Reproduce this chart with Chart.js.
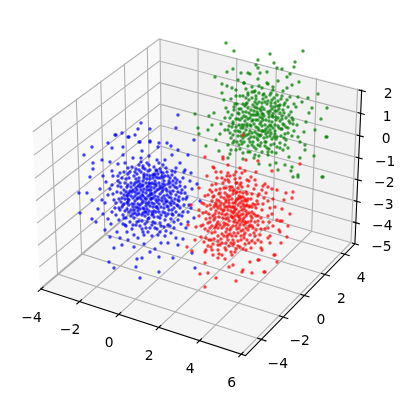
<!DOCTYPE html>
<html>
<head>
<meta charset="utf-8">
<style>
html, body { margin: 0; padding: 0; background: #fff; }
canvas { display: block; }
</style>
<script src="https://cdn.jsdelivr.net/npm/chart.js@4/dist/chart.umd.min.js"></script>
</head>
<body>
<canvas id="chart" width="405" height="401"></canvas>
<script>
// ===== 3D scatter drawn on a flat Chart.js scatter chart =====

// Axis ticks and limits
var xTicks = [-4, -2, 0, 2, 4, 6];
var yTicks = [-4, -2, 0, 2, 4];
var zTicks = [-5, -4, -3, -2, -1, 0, 1, 2];
var xLim = [-4.05, 6.2];
var yLim = [-5.4, 5.05];
var zLim = [-5.0, 2.05];

// Scatter values, read off the picture as flat x,y pairs on the view plane
// (a flat picture does not give the depth of a point)
var blueValues = [
84,155,79,193,87,193,80,213,92,219,96,222,90,177,93,163,93,169,102,160,110,162,108,143,122,133,115,135,128,137,135,135,140,142,123,147,123,155,150,141,159,143,167,143,178,150,188,155,
114,248,122,245,109,262,114,268,140,278,136,267,137,259,142,258,159,272,150,252,159,257,173,258,178,245,192,253,195,268,110,237,105,230,108,219,102,200,98,209,92,200,
178,115,176,128,194,140,141,123,150,129,138,129,116,135,129,137,139,142,92,147,112,148,150,142,171,146,158,147,
151,187,143,201,162,176,137,194,158,209,146,183,129,205,171,198,153,222,139,178,166,189,124,190,148,196,157,171,135,213,178,206,144,174,162,201,131,183,152,203,119,199,168,214,141,190,155,181,126,218,173,185,147,209,160,194,136,169,181,193,150,176,133,198,164,227,142,215,156,200,122,178,170,203,138,186,149,190,115,208,159,183,145,224,176,212,128,195,154,167,167,195,140,205,183,178,132,229,152,212,163,184,118,186,147,179,158,217,137,199,172,175,143,192,125,211,155,196,186,199,141,162,161,207,134,176,149,218,169,181,121,202,154,188,139,221,178,192,146,206,130,172,165,220,156,177,143,185,113,194,174,228,151,199,136,207,160,169,127,187,183,212,148,232,167,201,140,197,157,190,123,224,175,199,144,178,153,214,133,190,163,173,116,215,146,199,171,219,138,211,159,204,129,178,180,186,150,184,142,229,165,176,155,223,135,183,124,204,168,207,147,187,189,205,139,170,158,235,152,194,131,216,177,180,145,212,161,188,120,173,173,215,136,225,156,207,192,189,143,168,149,202,166,231,128,199,154,175,140,184,170,192,134,235,163,212,151,190,
146,193,155,192,141,199,160,186,150,206,136,188,165,199,144,209,157,202,132,204,148,186,162,192,139,181,153,198,127,196,170,187,145,216,158,178,135,201,149,211,174,208,142,195,130,191,167,206,152,183,138,208,161,215,147,175,125,183,176,195,143,213,156,186,134,210,164,196,150,195,122,207,
106,182,112,171,118,164,133,158,149,156,165,160,180,163,191,173,197,184,200,201,194,218,186,228,176,238,161,243,144,244,128,240,117,232,108,195,103,176,125,163,142,151,172,155,185,170,120,238,134,247,155,249,168,243,183,239,100,189,111,224,
128,168,172,171,118,181,185,187,126,226,181,224,163,165,139,165,150,170,159,163,121,193,116,203,130,222,144,235,157,229,170,226,182,216,188,212,190,181,184,172,176,168,147,163,135,172,124,172,113,176,110,189,112,212,119,220,127,232,138,238,150,228,165,236,174,222,187,197,179,201,175,178,167,172,155,174,143,166,132,167,126,179,119,208,123,215,134,218,140,226,147,222,160,223,168,225,180,208,172,210,164,208,170,178,164,181,158,174,148,171,141,172,132,192,127,203,122,198,129,212,137,215,142,221,155,228,152,225,159,212,166,216,174,203,179,197,184,205,177,188,168,184,160,178,153,178,145,169,137,174,131,187,126,192,117,192,120,210,125,225,133,225,139,214,146,228,154,217,161,226,172,214,179,215,185,193,173,181,166,168,157,160,149,165,141,158,128,174,120,183,114,200,
135,192,142,203,148,214,156,212,164,204,171,194,163,187,156,184,150,179,144,176,137,182,133,207,128,185,123,205,131,210,138,204,143,208,153,207,158,197,167,191,175,187,180,182,144,189,151,199,140,187,135,196,129,200,146,203,154,211,162,198,169,210,177,205,183,199,125,199,118,176,112,185,143,232,152,236,160,232,171,233,178,220,188,222,191,208,105,203,103,214,
154,204,147,190,139,193,159,189,165,185,134,185,127,209,172,201,149,183,143,181,156,170,136,179,161,172,168,176,175,172,129,193,121,187,142,186,153,175,148,219,137,222,133,214,124,218,165,213,160,218,171,205,178,200,182,190,176,183,170,183,163,178,
145,198,151,193,157,207,140,209,134,204,128,202,124,195,166,202,173,191,152,215,146,212,138,198,131,196,159,200,154,184,148,204,143,196,137,190,163,190,169,197
];
var redValues = [
290,214,287,237,279,230,270,236,293,192,286,193,292,198,277,190,272,189,280,221,288,226,275,255,277,262,265,272,258,260,252,273,242,272,236,281,229,267,216,278,205,287,208,273,200,274,205,263,
243,135,223,157,205,157,258,161,300,164,213,167,228,173,223,159,282,221,277,220,280,232,270,243,274,255,259,260,264,272,243,270,
238,205,226,219,247,194,231,228,252,212,219,201,241,236,209,214,234,190,258,225,244,218,223,183,215,232,237,199,263,204,228,210,249,243,205,196,240,178,254,189,232,217,218,222,246,206,211,240,236,226,268,216,225,193,243,230,214,207,251,199,229,246,203,225,239,212,260,235,221,172,233,203,248,222,216,190,242,187,227,237,256,208,208,231,235,220,266,193,222,214,245,171,230,196,253,228,212,250,238,241,199,210,224,204,247,214,234,233,217,178,261,218,228,225,241,197,206,219,250,235,236,183,220,245,244,209,213,197,255,180,231,211,243,249,202,203,265,229,226,188,239,221,218,236,248,186,233,240,210,222,257,201,222,255,237,192,246,228,204,242,229,203,252,218,215,214,241,207,227,176,235,252,270,208,212,185,244,238,224,226,259,194,196,227,238,216,220,193,249,207,231,243,208,246,254,233,217,206,242,201,226,232,263,186,234,175,201,237,245,222,213,255,237,229,223,211,251,248,228,218,240,192,210,205,258,216,233,207,218,245,247,180,225,259,236,236,205,252,243,214,261,242,230,190,
234,212,240,203,229,221,246,216,225,207,237,223,219,213,243,197,232,199,250,206,222,228,236,209,214,220,241,231,227,195,255,222,230,234,245,201,217,200,239,217,224,236,248,230,212,226,233,194,227,214,242,222,220,206,235,203,252,194,
195,240,188,225,191,205,199,188,207,176,228,165,240,168,256,172,268,187,275,207,273,226,262,250,250,262,233,265,218,258,206,250,192,251,272,171,284,200,281,243,246,160,187,247,214,168,282,209,
210,190,222,178,236,172,251,177,262,190,268,201,272,214,268,228,258,240,246,250,232,255,218,250,206,238,201,226,199,216,204,204,208,195,216,184,228,180,240,185,249,181,258,196,262,210,263,222,255,236,240,247,226,243,214,239,208,223,211,209,214,196,224,188,236,193,246,192,253,204,256,216,250,225,244,235,233,245,222,234,216,226,215,218,218,208,226,200,232,187,240,198,247,201,252,207,258,221,247,240,236,249,225,248,212,233,205,229,207,206,221,197,229,182,241,183,256,185,264,198,269,222,261,229,252,241,231,252,218,241,210,218,203,213,212,201,220,189,235,179,242,173,230,176,216,172,
234,207,228,197,238,188,245,199,251,221,244,225,238,233,230,230,224,223,219,217,216,203,224,198,233,213,240,225,228,240,221,239,215,228,209,240,213,244,235,216,243,204,249,213,255,205,233,226,227,207,239,196,231,207,221,209,225,215,237,214,246,223,241,240,234,243,226,250,219,254,211,247,261,248,255,243,245,244,268,238,273,199,265,184,
236,201,242,210,247,205,231,216,226,224,221,203,216,211,239,228,245,233,251,216,229,200,234,222,240,219,224,210,218,228,213,216,206,212,248,199,254,214,258,204,243,193,237,183,230,187,225,180,219,194,212,192,232,236,227,229,222,243,238,246,
235,210,229,206,241,215,246,211,252,226,223,218,217,224,233,218,238,199,244,206,226,202,220,225,228,235,243,220,249,227,215,205,210,228,256,230,233,191
];
var greenValues = [
226,43,234,51,270,54,303,51,258,60,274,63,295,62,294,67,256,65,258,68,277,68,282,69,233,69,227,72,241,73,248,73,215,77,260,73,290,74,238,80,222,84,227,86,244,83,299,82,298,97,308,98,318,94,327,108,312,108,321,119,327,137,315,130,314,156,322,177,305,145,305,150,
195,114,198,128,199,134,209,116,214,113,208,130,220,134,206,146,219,151,233,143,230,154,298,175,293,177,278,170,285,165,270,165,292,167,326,137,323,177,298,177,291,171,300,158,
262,118,250,131,271,106,258,140,275,125,243,112,266,97,254,124,281,136,236,127,269,149,247,103,260,109,284,113,241,141,273,117,252,92,263,131,232,115,278,101,256,149,245,121,288,128,268,84,238,136,259,102,274,144,249,113,265,125,226,108,283,91,254,137,270,130,243,96,292,118,261,143,235,104,277,111,248,146,257,115,286,140,264,94,240,120,272,100,251,126,296,107,230,133,267,137,280,121,246,89,255,155,239,109,275,134,261,122,228,145,290,97,253,105,269,114,244,133,283,150,258,128,236,96,273,87,249,139,264,109,294,131,242,118,256,99,278,126,233,122,268,152,251,115,285,103,260,136,225,118,271,93,247,126,262,103,280,143,240,149,254,111,276,117,237,142,266,129,291,112,245,106,258,120,272,139,231,99,284,125,250,152,263,114,241,128,298,137,255,91,269,121,234,110,279,106,252,133,288,148,246,117,265,142,229,126,274,98,259,156,243,138,282,116,257,108,267,83,238,119,293,124,248,95,271,126,236,150,261,135,276,153,253,120,287,88,244,125,
264,116,256,127,270,111,250,118,275,131,259,135,267,104,282,119,246,130,262,126,277,106,253,142,239,125,272,122,257,112,285,134,248,108,266,134,279,128,243,128,260,117,271,145,255,102,289,121,
221,124,216,140,224,100,232,88,244,83,258,79,278,81,292,85,302,102,306,122,300,142,289,157,276,163,259,164,243,159,231,150,222,93,212,125,304,132,287,77,250,74,228,158,267,72,309,113,
240,96,252,87,262,88,273,90,282,96,288,107,293,120,288,133,280,148,268,155,254,158,243,153,234,141,228,130,230,118,234,107,246,98,256,96,268,101,277,95,284,105,286,118,282,129,276,139,265,146,252,145,244,142,238,131,233,124,238,113,243,104,252,98,263,95,272,109,280,113,283,124,270,136,260,146,249,134,241,136,237,104,246,112,255,107,263,99,275,103,289,115,292,136,285,145,272,152,262,152,248,152,239,145,231,138,225,130,228,112,236,90,248,93,259,86,270,95,281,99,294,104,297,125,
258,114,266,120,251,110,255,132,268,127,277,137,244,116,252,121,261,111,273,114,279,109,287,100,264,138,250,142,242,125,236,119,247,135,257,138,271,133,281,129,290,123,274,107,265,102,259,93,240,132,233,135,
268,112,262,107,256,120,250,125,245,136,254,147,266,142,274,137,283,110,276,120,269,117,257,104,249,100,241,109,235,131,262,131,270,125,278,118,286,127,253,115,260,124,265,131,273,128,247,124,242,144,258,145,
263,120,255,115,268,132,275,111,280,105,251,137,246,104,259,130,271,103,284,138,239,114,232,127,267,148,277,147,254,92,262,114,272,116,257,134,248,119
];

// Default 3D view of the plotted box
var ELEV = 30 * Math.PI / 180;
var AZIM = -60 * Math.PI / 180;
var DIST = 10;
var BOX = [1.1429, 1.1429, 0.875];
var VIEW_SCALE = 2060, VIEW_X = 200.3, VIEW_Y = 189.5;

var W = [Math.cos(ELEV) * Math.cos(AZIM), Math.cos(ELEV) * Math.sin(AZIM), Math.sin(ELEV)];
var UU = [-Math.sin(AZIM), Math.cos(AZIM), 0];
var VV = [W[1] * UU[2] - W[2] * UU[1], W[2] * UU[0] - W[0] * UU[2], W[0] * UU[1] - W[1] * UU[0]];

function project(x, y, z) {
    var d = [
        ((x - xLim[0]) / (xLim[1] - xLim[0]) - 0.5) * BOX[0],
        ((y - yLim[0]) / (yLim[1] - yLim[0]) - 0.5) * BOX[1],
        ((z - zLim[0]) / (zLim[1] - zLim[0]) - 0.5) * BOX[2]
    ];
    var den = DIST - (W[0] * d[0] + W[1] * d[1] + W[2] * d[2]);
    var xs = (UU[0] * d[0] + UU[1] * d[1] + UU[2] * d[2]) / den;
    var ys = (VV[0] * d[0] + VV[1] * d[1] + VV[2] * d[2]) / den;
    return { x: VIEW_X + xs * VIEW_SCALE, y: VIEW_Y - ys * VIEW_SCALE };
}

function toPoints(flat) {
    var pts = [];
    for (var i = 0; i < flat.length; i += 2) pts.push({ x: flat[i], y: flat[i + 1] });
    return pts;
}

// polyline through 3D points, with a gap after it
function addPath(list, path) {
    for (var i = 0; i < path.length; i++) list.push(project(path[i][0], path[i][1], path[i][2]));
    list.push({ x: null, y: null });
}

var x0 = xLim[0], x1 = xLim[1], y0 = yLim[0], y1 = yLim[1], z0 = zLim[0], z1 = zLim[1];

var gridPts = [];
xTicks.forEach(function(t) { addPath(gridPts, [[t, y0, z0], [t, y1, z0], [t, y1, z1]]); });
yTicks.forEach(function(t) { addPath(gridPts, [[x1, t, z0], [x0, t, z0], [x0, t, z1]]); });
zTicks.forEach(function(t) { addPath(gridPts, [[x0, y0, t], [x0, y1, t], [x1, y1, t]]); });

var axisPts = [];
addPath(axisPts, [[x0, y0, z0], [x1, y0, z0], [x1, y1, z0], [x1, y1, z1]]);
xTicks.forEach(function(t) { addPath(axisPts, [[t, y0 - 0.25, z0], [t, y0 + 0.2, z0]]); });
yTicks.forEach(function(t) { addPath(axisPts, [[x1 - 0.2, t, z0], [x1 + 0.25, t, z0]]); });
zTicks.forEach(function(t) { addPath(axisPts, [[x1 - 0.15, y1, t], [x1 + 0.2, y1, t]]); });

function lineSet(data, color, order) {
    return { type: 'line', data: data, borderColor: color, borderWidth: 1.1, pointRadius: 0, fill: false, tension: 0, spanGaps: false, clip: false, order: order };
}

function dotSet(data, color, order) {
    return { type: 'scatter', data: data, backgroundColor: color, borderWidth: 0, pointRadius: 1.7, clip: false, order: order };
}

var panes = [
    { color: '#f9f9f9', corners: [[x0, y0, z0], [x0, y1, z0], [x0, y1, z1], [x0, y0, z1]] },
    { color: '#f2f2f2', corners: [[x0, y1, z0], [x1, y1, z0], [x1, y1, z1], [x0, y1, z1]] },
    { color: '#f5f5f5', corners: [[x0, y0, z0], [x1, y0, z0], [x1, y1, z0], [x0, y1, z0]] }
];

var panePlugin = {
    id: 'panes',
    beforeDatasetsDraw: function(chart) {
        var ctx = chart.ctx, sx = chart.scales.x, sy = chart.scales.y;
        ctx.save();
        panes.forEach(function(p) {
            ctx.beginPath();
            p.corners.forEach(function(c, i) {
                var q = project(c[0], c[1], c[2]);
                var px = sx.getPixelForValue(q.x), py = sy.getPixelForValue(q.y);
                if (i === 0) ctx.moveTo(px, py); else ctx.lineTo(px, py);
            });
            ctx.closePath();
            ctx.fillStyle = p.color;
            ctx.fill();
        });
        ctx.restore();
    }
};

function tickText(v) { return v < 0 ? '\u2212' + Math.abs(v) : String(v); }

var labelPlugin = {
    id: 'tickLabels',
    afterDatasetsDraw: function(chart) {
        var ctx = chart.ctx, sx = chart.scales.x, sy = chart.scales.y;
        function put(q, dx, dy, v) {
            ctx.fillText(tickText(v), sx.getPixelForValue(q.x) + dx, sy.getPixelForValue(q.y) + dy);
        }
        ctx.save();
        ctx.font = '13.89px "DejaVu Sans"';
        ctx.fillStyle = '#000';
        ctx.textAlign = 'center';
        ctx.textBaseline = 'middle';
        xTicks.forEach(function(t) { put(project(t, y0, z0), -9.5, 29, t); });
        yTicks.forEach(function(t) { put(project(x1, t, z0), 16.5, 24.5, t); });
        zTicks.forEach(function(t) { put(project(x1, y1, t), 26.5, 4, t); });
        ctx.restore();
    }
};

new Chart(document.getElementById('chart'), {
    type: 'scatter',
    data: {
        datasets: [
            lineSet(gridPts, '#b0b0b0', 5),
            lineSet(axisPts, '#000000', 4),
            dotSet(toPoints(greenValues), 'rgba(0,128,0,0.75)', 3),
            dotSet(toPoints(blueValues), 'rgba(0,0,255,0.75)', 2),
            dotSet(toPoints(redValues), 'rgba(255,0,0,0.75)', 1)
        ]
    },
    options: {
        responsive: false,
        animation: false,
        devicePixelRatio: 1,
        layout: { padding: 0, autoPadding: false },
        plugins: { legend: { display: false }, tooltip: { enabled: false } },
        scales: {
            x: { type: 'linear', display: false, min: 0, max: 405 },
            y: { type: 'linear', display: false, min: 0, max: 401, reverse: true }
        }
    },
    plugins: [panePlugin, labelPlugin]
});
</script>
</body>
</html>
